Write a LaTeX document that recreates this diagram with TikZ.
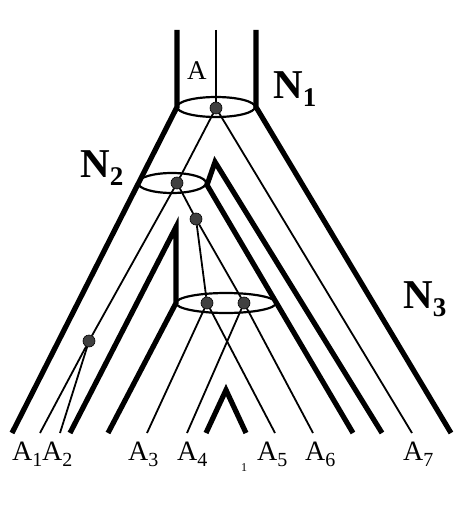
\documentclass[tikz,border=0pt]{standalone}
\usepackage{fontspec}
\setmainfont{Liberation Serif}

% leaf and node labels
\newcommand{\spname}[1]{\fontsize{28}{28}\selectfont A\raisebox{-6pt}{\fontsize{20}{20}\selectfont #1}}
\newcommand{\treenode}[1]{\fontsize{41}{41}\selectfont\bfseries N\raisebox{-8pt}{\fontsize{27}{27}\selectfont #1}}

\tikzset{
  species/.style={line width=5.2pt},
  gene/.style={line width=1.8pt},
  event/.style={line width=2.2pt},
  genedot/.style={circle, fill=black!75, draw=black, line width=0.6pt, inner sep=0pt, minimum size=12pt},
  leaf/.style={anchor=base west, inner sep=0pt}
}

\begin{document}
\begin{tikzpicture}[x=1pt,y=-1pt]
  \useasboundingbox (0,0) rectangle (474,511);

  % Species tree (thick tubes)
  \draw[species] (177,30) -- (177,107) -- (12,433); % outer left
  \draw[species] (256,30) -- (256,107) -- (451,433); % outer right
  \draw[species] (353,433) -- (207,185) -- (215,162) -- (382,433); % gap N2 / A7
  \draw[species] (70,433) -- (176,227) -- (176,303) -- (108,433); % gap N2 split
  \draw[species] (206,433) -- (226,390) -- (246,433); % gap N3 split

  % Speciation cuts
  \draw[event] (216,107) ellipse [x radius=39, y radius=10];
  \draw[event] (172,183) ellipse [x radius=34, y radius=10];
  \draw[event] (226,303) ellipse [x radius=50, y radius=10];

  % Gene tree
  \coordinate (top) at (216,30);
  \foreach \name/\x in {l1/40, l2/60, l3/147, l4/187, l5/275, l6/313, l7/412} {
    \coordinate (\name) at (\x,433); % leaf ends
  }
  \node[genedot] (g1) at (216,108) {};
  \node[genedot] (g2) at (177,183) {};
  \node[genedot] (g3) at (196,219) {};
  \node[genedot] (g4) at (89,341) {};
  \node[genedot] (g5) at (207,303) {};
  \node[genedot] (g6) at (244,303) {};

  \draw[gene] (top) -- (g1);
  \draw[gene] (g1) -- (l7);
  \draw[gene] (g1) -- (g2);
  \draw[gene] (g2) -- (g4);
  \draw[gene] (g4) -- (l1);
  \draw[gene] (g4) -- (l2);
  \draw[gene] (g2) -- (g3);
  \draw[gene] (g3) -- (g5);
  \draw[gene] (g3) -- (g6);
  \draw[gene] (g5) -- (l3);
  \draw[gene] (g5) -- (l5);
  \draw[gene] (g6) -- (l4);
  \draw[gene] (g6) -- (l6);

  % Labels
  \node[leaf] (gname) at (187,79) {\fontsize{27}{27}\selectfont A};
  \node[leaf] (n1) at (273,98) {\treenode{1}};
  \node[leaf] (n2) at (80,177) {\treenode{2}};
  \node[leaf] (n3) at (403,308) {\treenode{3}};
  \foreach \i/\x in {1/12, 2/42, 3/128, 4/177, 5/257, 6/305, 7/403} {
    \node[leaf] (A\i) at (\x,460) {\spname{\i}};
  }
  \node[leaf] (mark) at (241,471) {\fontsize{12}{12}\selectfont 1};
\end{tikzpicture}
\end{document}
